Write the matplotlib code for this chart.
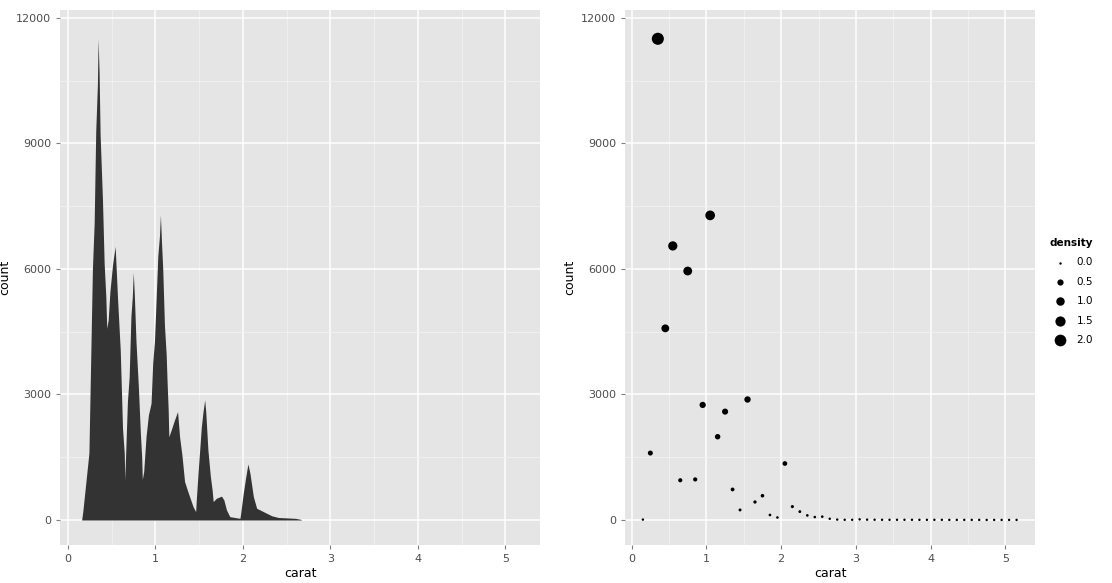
import numpy as np
import matplotlib
matplotlib.use("Agg")
import matplotlib.pyplot as plt

# Left panel: outline vertices of the area (carat, count)
area_carat = [0.157,0.17,0.22,0.24,0.26,0.28,0.30,0.318,0.337,0.345,0.356,0.368,0.395,0.414,0.433,0.444,0.46,0.48,0.51,0.54,
              0.567,0.598,0.624,0.644,0.65,0.66,0.68,0.70,0.72,0.736,0.747,0.759,0.778,0.805,0.828,0.843,0.85,0.866,0.893,0.92,
              0.95,0.969,0.989,1.008,1.027,1.046,1.057,1.069,1.084,1.103,1.123,1.134,1.146,1.153,1.18,1.218,1.253,1.276,1.303,1.333,
              1.364,1.39,1.43,1.46,1.467,1.487,1.506,1.525,1.544,1.563,1.575,1.6,1.628,1.648,1.66,1.697,1.755,1.782,1.812,1.85,
              1.908,1.966,1.977,2.004,2.03,2.057,2.08,2.119,2.157,2.215,2.272,2.33,2.406,2.6,2.66,2.67]
area_count = [0,200,1200,1600,3800,6000,7100,9300,10400,11500,10700,9200,7650,6140,5340,4580,4780,5460,6100,6540,
              5300,4060,2190,1590,960,1590,2830,3430,4860,5340,5920,5380,4260,3190,2070,1510,970,1160,2000,2510,
              2790,3750,4260,5260,6300,6780,7290,6660,5980,4660,3950,3270,2630,1990,2150,2390,2590,1990,1550,920,
              720,560,320,200,480,1120,1670,2230,2590,2870,2590,1670,1040,720,440,520,570,480,240,80,
              60,40,200,640,1000,1340,1120,560,280,220,160,100,60,40,16,0]

# Right panel: binned counts (binwidth 0.1)
bin_centers = [round(0.15 + 0.1*i, 2) for i in range(51)]
bin_counts = [10,1600,11500,4580,6550,950,5950,970,2750,7280,1990,2590,730,240,2880,430,580,120,60,1350,
              320,200,110,70,80,30,10,5,5,15,8,6,5,5,5,5,5,4,4,4,4,3,3,3,3,3,2,2,2,2,2]
total_n = 53940
binwidth = 0.1

BG = "#E5E5E5"
TXT = "#4D4D4D"

fig = plt.figure(figsize=(11.12, 5.83), dpi=100)

def style(ax):
    ax.set_facecolor(BG)
    for s in ax.spines.values():
        s.set_visible(False)
    ax.set_xlim(-0.09, 5.4)
    ax.set_ylim(-600, 12190)
    ax.set_xticks([0,1,2,3,4,5])
    ax.set_yticks([0,3000,6000,9000,12000])
    ax.set_xticks(np.arange(0.5,5.5,1), minor=True)
    ax.set_yticks([1500,4500,7500,10500], minor=True)
    ax.grid(which="major", color="white", lw=1.1)
    ax.grid(which="minor", color="#F2F2F2", lw=0.6)
    ax.set_axisbelow(True)
    ax.tick_params(which="major", colors="#7F7F7F", labelcolor=TXT, labelsize=8, length=3)
    ax.tick_params(which="minor", length=0)
    ax.set_xlabel("carat", fontsize=9, labelpad=2)
    ax.set_ylabel("count", fontsize=9, labelpad=3)

ax1 = fig.add_axes([0.054, 0.065, 0.432, 0.918])
style(ax1)
ax1.fill_between(area_carat, area_count, 0, color="#333333", lw=0)

ax2 = fig.add_axes([0.562, 0.065, 0.369, 0.918])
style(ax2)
dens = np.array(bin_counts) / (total_n * binwidth)
sz = lambda d: 3 + 34*np.asarray(d)
ax2.scatter(bin_centers, bin_counts, s=sz(dens), color="black", lw=0)

# legend
handles = [ax2.scatter([], [], s=sz(v), color="black", lw=0) for v in [0,0.5,1,1.5,2]]
leg = fig.legend(handles, ["0.0","0.5","1.0","1.5","2.0"], title="density", loc="center left",
                 bbox_to_anchor=(0.937, 0.5), frameon=False, fontsize=7.5, title_fontsize=7.5,
                 handletextpad=0.6, labelspacing=0.9, borderpad=0.2)
leg.get_title().set_fontweight("bold")
leg._legend_box.align = "left"

fig.savefig("out.png", dpi=100)
